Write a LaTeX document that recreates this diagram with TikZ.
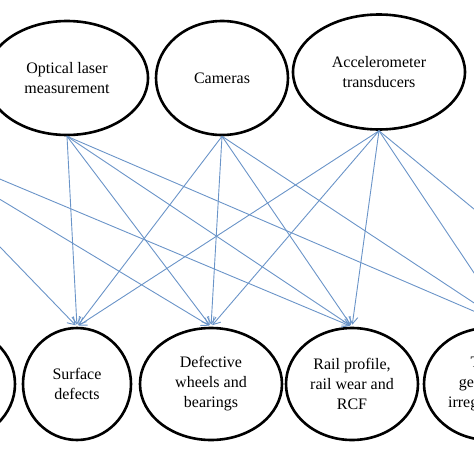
\documentclass[tikz,border=0pt]{standalone}
\usepackage{fontspec}
\setmainfont{Liberation Serif}
\usetikzlibrary{arrows.meta, shapes.geometric}
\definecolor{figink}{HTML}{000000}
\definecolor{figline}{HTML}{6A94C8}

\begin{document}
\begin{tikzpicture}[
  x=1pt, y=-1pt,
  line cap=round, line join=round,
  oval/.style = {ellipse, draw=figink, line width=2.6pt, inner sep=0pt,
                 align=center, font=\fontsize{16}{20}\selectfont},
  link/.style = {draw=figline, line width=0.9pt, shorten >=2pt,
                 -{Straight Barb[length=7pt, width=9pt]}}
]

% frame of the cut-out
\useasboundingbox (0,0) rectangle (474,474);
\clip (0,0) rectangle (474,474);

% sensors, top row
\node[oval, minimum width=162pt, minimum height=114pt] (opt) at (67,78)  {Optical laser\\measurement};
\node[oval, minimum width=132pt, minimum height=114pt] (cam) at (222,78) {Cameras};
\node[oval, minimum width=172pt, minimum height=115pt] (acc) at (379,72) {Accelerometer\\transducers};

% defects, bottom row
\node[oval, minimum width=120pt, minimum height=112pt] (bl)   at (-45,384) {};
\node[oval, minimum width=108pt, minimum height=112pt] (sur)  at (77,384)  {Surface\\defects};
\node[oval, minimum width=142pt, minimum height=112pt] (def)  at (211,384) {Defective\\wheels and\\bearings};
\node[oval, minimum width=132pt, minimum height=112pt] (rail) at (352,384) {Rail profile,\\rail wear and\\RCF};
\node[oval, minimum width=130pt, minimum height=112pt] (trk)  at (489,384) {Track\\geometry\\irregularities};

% free ends outside the frame
\coordinate (s0)    at (-110,133);
\coordinate (far)   at (616,326);
\coordinate (trkin) at ([xshift=21pt]trk.north);

% links
\foreach \t in {sur.north, def.north, rail.north}
  \draw[link] (s0) -- (\t);
\foreach \t in {sur.north, def.north, rail.north, trkin}
  \draw[link] (opt.south) -- (\t);
\foreach \t in {sur.north, def.north, rail.north, trkin}
  \draw[link] (cam.south) -- (\t);
\foreach \t in {sur.north, def.north, rail.north, trkin, far}
  \draw[link] (acc.south) -- (\t);

\end{tikzpicture}
\end{document}
